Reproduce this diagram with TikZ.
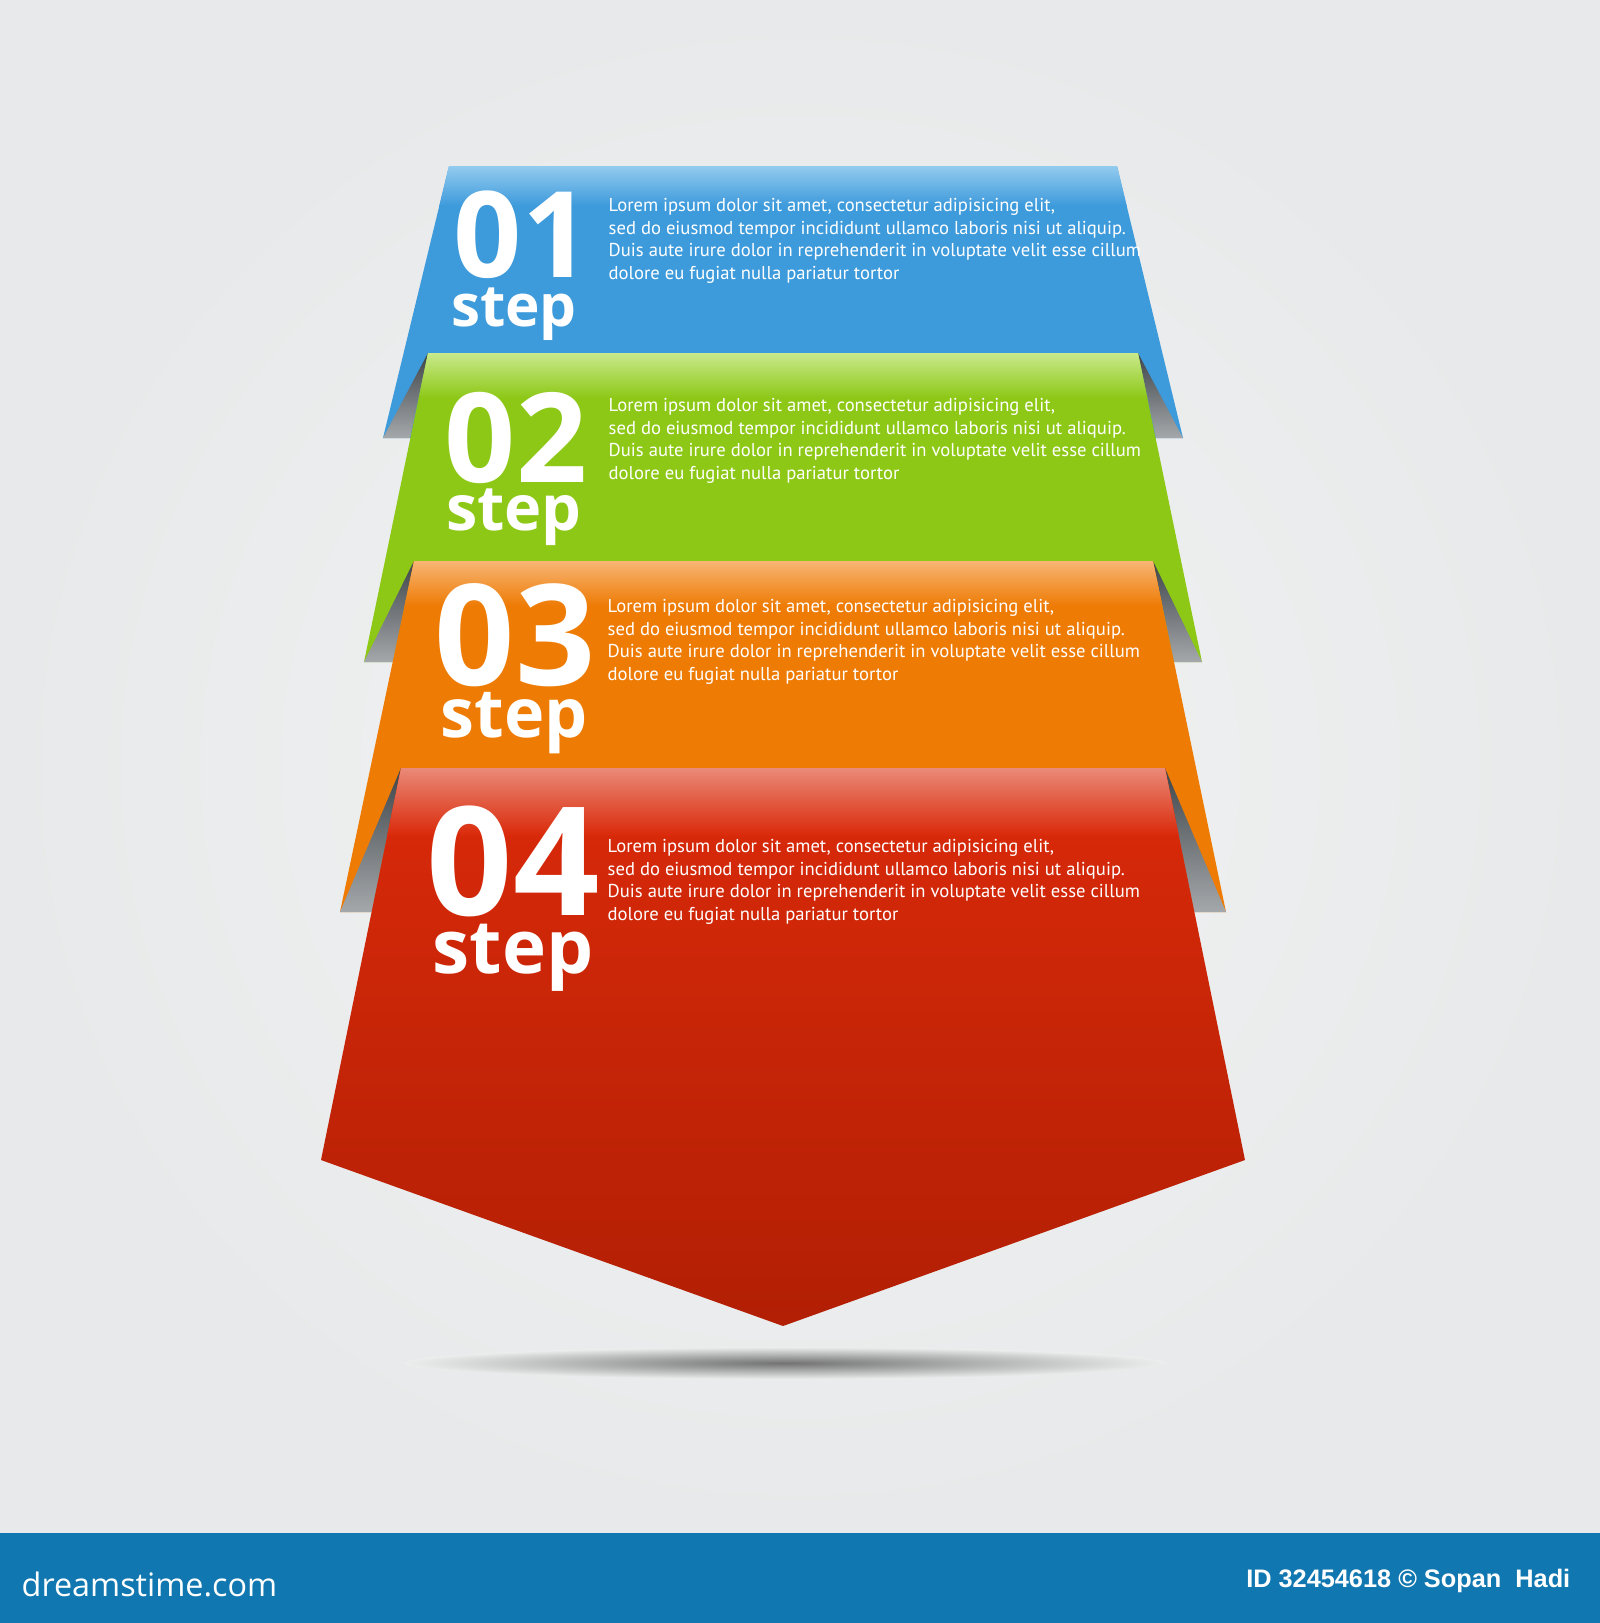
\documentclass[tikz,border=0pt]{standalone}
\usepackage{fontspec}
\setmainfont{Open Sans}
\newfontfamily\bodyfont{PT Sans}
\newfontfamily\footfont{Liberation Sans}
\usepackage{tikz}

\definecolor{bgC}{HTML}{F3F4F4}
\definecolor{bgE}{HTML}{E7E9EA}
\definecolor{bgS}{HTML}{ECEEEE}
\definecolor{blueL}{HTML}{93CBEF}
\definecolor{blueM}{HTML}{3D9ADB}
\definecolor{greenL}{HTML}{C9E98C}
\definecolor{greenM}{HTML}{8DC816}
\definecolor{orangeL}{HTML}{F7B574}
\definecolor{orangeM}{HTML}{EE7B04}
\definecolor{redL}{HTML}{EA8A78}
\definecolor{redM}{HTML}{DA2A0A}
\definecolor{redD}{HTML}{B21F04}
\definecolor{foldD}{HTML}{3E4448}
\definecolor{foldL}{HTML}{A4A8AB}
\definecolor{footblue}{HTML}{1177B0}

\begin{document}
\begin{tikzpicture}[x=0.01cm, y=-0.01cm,
  numtxt/.style = {anchor=base, inner sep=0, text=white, font=\bfseries},
  bodytxt/.style = {anchor=north west, inner sep=0, align=left, text=white,
    font=\bodyfont\fontsize{5.3}{6.4}\selectfont},
  fold/.style = {top color=foldD, bottom color=foldL}]

	\useasboundingbox (0,0) rectangle (1600,1623);
	\shade[inner color=bgC, outer color=bgE] (0,0) rectangle (1600,1533);
	
	% shadow under the arrow
	\shade[inner color=black!55, outer color=bgS] (785,1363) ellipse (3.8cm and 0.16cm);
	
	% band 1
	\fill[blueM] (449,166) -- (1117,166) -- (1183,438) -- (383,438) -- cycle;
	\begin{scope}
		\clip (449,166) -- (1117,166) -- (1183,438) -- (383,438) -- cycle;
		\shade[top color=blueL, bottom color=blueM] (380,166) rectangle (1190,206);
	\end{scope}
	\shade[fold] (428,353) -- (383,438) -- (410,438) -- cycle;
	\shade[fold] (1138,353) -- (1183,438) -- (1156,438) -- cycle;
	
	% band 2
	\fill[greenM] (428,353) -- (1138,353) -- (1202,662) -- (364,662) -- cycle;
	\begin{scope}
		\clip (428,353) -- (1138,353) -- (1202,662) -- (364,662) -- cycle;
		\shade[top color=greenL, bottom color=greenM] (360,353) rectangle (1210,398);
	\end{scope}
	\shade[fold] (414,561) -- (364,662) -- (393,662) -- cycle;
	\shade[fold] (1153,561) -- (1202,662) -- (1174,662) -- cycle;
	
	% band 3
	\fill[orangeM] (414,561) -- (1153,561) -- (1226,912) -- (340,912) -- cycle;
	\begin{scope}
		\clip (414,561) -- (1153,561) -- (1226,912) -- (340,912) -- cycle;
		\shade[top color=orangeL, bottom color=orangeM] (330,561) rectangle (1230,606);
	\end{scope}
	\shade[fold] (401,768) -- (340,912) -- (372,912) -- cycle;
	\shade[fold] (1165,768) -- (1226,912) -- (1194,912) -- cycle;
	
	% band 4, the arrow
	\shade[top color=redM, bottom color=redD]
		(401,768) -- (1165,768) -- (1245,1160) -- (783,1326) -- (321,1160) -- cycle;
	\begin{scope}
		\clip (401,768) -- (1165,768) -- (1245,1160) -- (783,1326) -- (321,1160) -- cycle;
		\shade[top color=redL, bottom color=redM] (320,768) rectangle (1250,835);
	\end{scope}
	
	\node[numtxt, font=\fontsize{34}{34}\selectfont\bfseries] (N1) at (522,277) {01};
	\node[numtxt, font=\fontsize{16.6}{17}\selectfont\bfseries] (S1) at (514,326) {step};
	\node[numtxt, font=\fontsize{35.4}{36}\selectfont\bfseries] (N2) at (516,482) {02};
	\node[numtxt, font=\fontsize{17.9}{18}\selectfont\bfseries] (S2) at (514,530) {step};
	\node[numtxt, font=\fontsize{40}{40}\selectfont\bfseries] (N3) at (515,685) {03};
	\node[numtxt, font=\fontsize{19.4}{20}\selectfont\bfseries] (S3) at (514,737) {step};
	\node[numtxt, font=\fontsize{43}{43}\selectfont\bfseries] (N4) at (513,915) {04};
	\node[numtxt, font=\fontsize{21.2}{22}\selectfont\bfseries] (S4) at (513,973) {step};
	
	\node[bodytxt] (T1) at (608,198) {Lorem ipsum dolor sit amet, consectetur adipisicing elit,\\
		sed do eiusmod tempor incididunt ullamco laboris nisi ut aliquip.\\
		Duis aute irure dolor in reprehenderit in voluptate velit esse cillum\\
		dolore eu fugiat nulla pariatur tortor};
	\node[bodytxt] (T2) at (608,398) {Lorem ipsum dolor sit amet, consectetur adipisicing elit,\\
		sed do eiusmod tempor incididunt ullamco laboris nisi ut aliquip.\\
		Duis aute irure dolor in reprehenderit in voluptate velit esse cillum\\
		dolore eu fugiat nulla pariatur tortor};
	\node[bodytxt] (T3) at (607,599) {Lorem ipsum dolor sit amet, consectetur adipisicing elit,\\
		sed do eiusmod tempor incididunt ullamco laboris nisi ut aliquip.\\
		Duis aute irure dolor in reprehenderit in voluptate velit esse cillum\\
		dolore eu fugiat nulla pariatur tortor};
	\node[bodytxt] (T4) at (607,839) {Lorem ipsum dolor sit amet, consectetur adipisicing elit,\\
		sed do eiusmod tempor incididunt ullamco laboris nisi ut aliquip.\\
		Duis aute irure dolor in reprehenderit in voluptate velit esse cillum\\
		dolore eu fugiat nulla pariatur tortor};
	
	% footer
	\fill[footblue] (0,1533) rectangle (1600,1623);
	\node[anchor=base west, inner sep=0, text=white, font=\fontsize{9.2}{10}\selectfont] (logo) at (21,1596) {dreamstime.com};
	\node[anchor=base east, inner sep=0, text=white, font=\footfont\fontsize{7.2}{8}\selectfont\bfseries] (credit) at (1571,1587) {ID 32454618 © Sopan\ \ Hadi};
	
\end{tikzpicture}
\end{document}
